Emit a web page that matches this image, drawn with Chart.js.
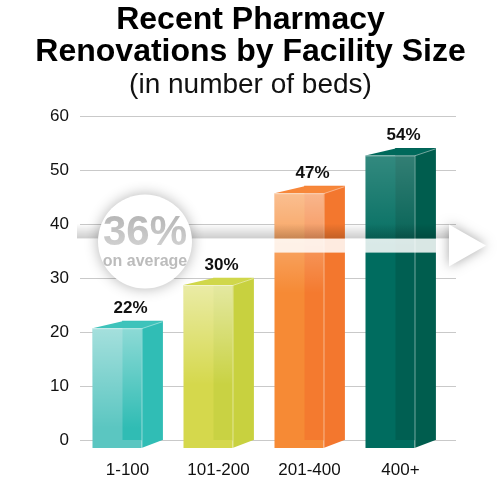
<!DOCTYPE html>
<html>
<head>
<meta charset="utf-8">
<title>Recent Pharmacy Renovations by Facility Size</title>
<script src="https://cdn.jsdelivr.net/npm/chart.js@4.4.1/dist/chart.umd.min.js"></script>
<style>
  html, body { margin: 0; padding: 0; background: #fff; overflow: hidden; }
  canvas { display: block; }
</style>
</head>
<body>
<canvas id="chart" width="501" height="490"></canvas>
<script>
// chart data
const categories = ['1-100', '101-200', '201-400', '400+'];
const renovationPct = [22, 30, 47, 54];
const averagePct = 36;
const yMin = 0;
const yMax = 60;
const yStep = 10;

// colours per bar: front face, inner (back seen through), side, top
const frontColors = ['#5bc6c1', '#d5d84c', '#f68a35', '#006c5f'];
const innerColors = ['#30bcb4', '#c9d243', '#f47a2f', '#005f52'];
const sideColors  = ['#30bdb5', '#c8d13f', '#f3772e', '#005d4e'];
const topColors   = ['#3ec3bb', '#d0d74a', '#f7873a', '#00695b'];
const glossAlpha  = [0.45, 0.5, 0.45, 0.2];

Chart.defaults.font.family = "'Liberation Sans', Arial, Helvetica, sans-serif";
Chart.defaults.color = '#111';

// horizontal grid lines, a little wider than the plot area
const gridPlugin = {
  id: 'gridLines',
  beforeDatasetsDraw(chart) {
    const ctx = chart.ctx;
    const y = chart.scales.y;
    ctx.save();
    ctx.strokeStyle = '#c9c9c9';
    ctx.lineWidth = 1;
    y.ticks.forEach(t => {
      const py = Math.round(y.getPixelForValue(t.value)) + 0.5;
      ctx.beginPath();
      ctx.moveTo(80, py);
      ctx.lineTo(456, py);
      ctx.stroke();
    });
    ctx.restore();
  }
};

// 3D faces, value labels, average arrow and badge
const boxPlugin = {
  id: 'boxFaces',
  afterDatasetsDraw(chart) {
    const ctx = chart.ctx;
    const meta = chart.getDatasetMeta(0);
    const yScale = chart.scales.y;

    meta.data.forEach((bar, i) => {
      const p = bar.getProps(['x', 'y', 'base', 'width'], true);
      const backL = p.x - p.width / 2;
      const backR = p.x + p.width / 2;
      const backT = p.y;
      const frontL = backL - 30;
      const frontR = backR - 21;
      const frontT = backT + 7;
      const frontB = p.base + 8;

      ctx.save();
      // side
      ctx.fillStyle = sideColors[i];
      ctx.beginPath();
      ctx.moveTo(frontR, frontT);
      ctx.lineTo(backR, backT);
      ctx.lineTo(backR, p.base);
      ctx.lineTo(frontR, frontB);
      ctx.closePath();
      ctx.fill();
      // top
      ctx.fillStyle = topColors[i];
      ctx.beginPath();
      ctx.moveTo(frontL, frontT);
      ctx.lineTo(backL, backT);
      ctx.lineTo(backR, backT);
      ctx.lineTo(frontR, frontT);
      ctx.closePath();
      ctx.fill();
      // front
      ctx.fillStyle = frontColors[i];
      ctx.fillRect(frontL, frontT, frontR - frontL, frontB - frontT);
      ctx.fillStyle = innerColors[i];
      ctx.fillRect(backL, frontT, frontR - backL, p.base - frontT);
      // gloss
      const g = ctx.createLinearGradient(0, frontT, 0, frontT + 100);
      g.addColorStop(0, 'rgba(255,255,255,' + glossAlpha[i] + ')');
      g.addColorStop(1, 'rgba(255,255,255,0)');
      ctx.fillStyle = g;
      ctx.fillRect(frontL, frontT, frontR - frontL, 100);
      // edges
      ctx.strokeStyle = 'rgba(255,255,255,0.45)';
      ctx.lineWidth = 1;
      ctx.beginPath();
      ctx.moveTo(frontR + 0.5, frontT);
      ctx.lineTo(frontR + 0.5, frontB);
      ctx.moveTo(frontL, frontT + 0.5);
      ctx.lineTo(frontR, frontT + 0.5);
      ctx.lineTo(backR, backT + 0.5);
      ctx.stroke();
      ctx.restore();

      // value label
      ctx.save();
      ctx.font = "bold 17px 'Liberation Sans', Arial, sans-serif";
      ctx.fillStyle = '#111';
      ctx.textAlign = 'center';
      ctx.textBaseline = 'middle';
      ctx.fillText(renovationPct[i] + '%', p.x - 12, p.y - 13);
      ctx.restore();
    });

    // average arrow
    const ay = yScale.getPixelForValue(averagePct);
    const bodyL = 77, bodyR = 449, tipX = 486;
    ctx.save();
    const sh = ctx.createLinearGradient(0, ay - 22, 0, ay - 7);
    sh.addColorStop(0, 'rgba(0,0,0,0)');
    sh.addColorStop(1, 'rgba(0,0,0,0.2)');
    ctx.fillStyle = sh;
    ctx.fillRect(bodyL, ay - 22, bodyR - bodyL, 15);
    ctx.fillStyle = 'rgba(255,255,255,0.85)';
    ctx.fillRect(bodyL, ay - 7, bodyR - bodyL, 14);
    ctx.shadowColor = 'rgba(0,0,0,0.35)';
    ctx.shadowBlur = 12;
    ctx.fillStyle = '#fff';
    ctx.beginPath();
    ctx.moveTo(bodyR, ay - 21);
    ctx.lineTo(tipX, ay);
    ctx.lineTo(bodyR, ay + 21);
    ctx.closePath();
    ctx.fill();
    ctx.restore();

    // badge
    const cx = 145, cy = ay - 4;
    ctx.save();
    ctx.shadowColor = 'rgba(0,0,0,0.3)';
    ctx.shadowBlur = 14;
    ctx.fillStyle = '#fff';
    ctx.beginPath();
    ctx.arc(cx, cy, 47, 0, Math.PI * 2);
    ctx.fill();
    ctx.restore();

    ctx.save();
    ctx.textAlign = 'center';
    ctx.textBaseline = 'middle';
    const tg = ctx.createLinearGradient(0, cy - 24, 0, cy + 4);
    tg.addColorStop(0, '#b8b8b8');
    tg.addColorStop(1, '#d0d0d0');
    ctx.fillStyle = tg;
    ctx.font = "bold 42px 'Liberation Sans', Arial, sans-serif";
    ctx.fillText(averagePct + '%', cx, cy - 8);
    ctx.fillStyle = '#bcbcbc';
    ctx.font = "bold 16px 'Liberation Sans', Arial, sans-serif";
    ctx.fillText('on average', cx, cy + 20);
    ctx.restore();
  }
};

new Chart(document.getElementById('chart'), {
  type: 'bar',
  data: {
    labels: categories,
    datasets: [{
      data: renovationPct,
      backgroundColor: innerColors,
      barThickness: 40,
      borderWidth: 0
    }]
  },
  options: {
    responsive: false,
    animation: false,
    layout: { padding: 0 },
    plugins: {
      legend: { display: false },
      tooltip: { enabled: false },
      title: {
        display: true,
        text: ['Recent Pharmacy', 'Renovations by Facility Size'],
        font: { size: 32, weight: 'bold', lineHeight: 1.0 },
        color: '#000',
        padding: { top: 4, bottom: 0 }
      },
      subtitle: {
        display: true,
        text: '(in number of beds)',
        font: { size: 28, weight: 'normal', lineHeight: 1.2 },
        color: '#111',
        padding: { top: 0, bottom: 14.4 }
      }
    },
    scales: {
      x: {
        grid: { display: false, drawTicks: false },
        border: { display: false },
        ticks: { font: { size: 17 }, color: '#111', padding: 20, labelOffset: -15 },
        afterFit(scale) { scale.height = 50; }
      },
      y: {
        min: yMin,
        max: yMax,
        grid: { display: false, drawTicks: false },
        border: { display: false },
        ticks: { stepSize: yStep, font: { size: 17 }, color: '#111', padding: 28 },
        afterFit(scale) { scale.width = 97; }
      },
      // empty right-hand margin so the titles stay centred on the page
      yRight: {
        position: 'right',
        min: yMin,
        max: yMax,
        grid: { display: false, drawTicks: false },
        border: { display: false },
        ticks: { display: false },
        afterFit(scale) { scale.width = 40; }
      }
    }
  },
  plugins: [gridPlugin, boxPlugin]
});
</script>
</body>
</html>
